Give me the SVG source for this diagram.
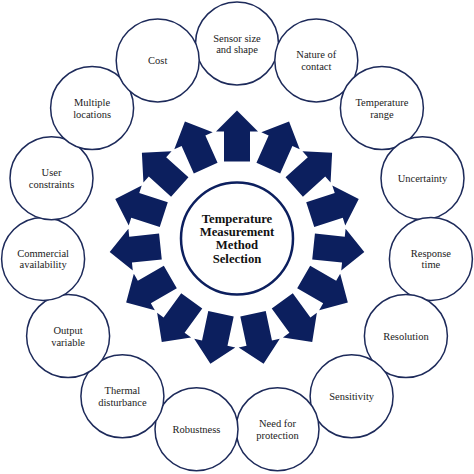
<svg xmlns="http://www.w3.org/2000/svg" width="474" height="474" viewBox="0 0 474 474">
<style>
.c{fill:#fff;stroke:#1d2a5a;stroke-width:1.5}
.t{font-family:"Liberation Serif","Times New Roman",serif;font-size:10.5px;fill:#222;text-anchor:middle}
.m{font-family:"Liberation Serif","Times New Roman",serif;font-size:12.7px;font-weight:bold;fill:#111;text-anchor:middle}
.a{fill:#0c1f5e}
</style>
<defs>
<polygon id="arr" class="a" points="224,161.5 224,131.5 216,131.5 237,110.5 258,131.5 250,131.5 250,161.5"/>
</defs>
<rect width="474" height="474" fill="#fff"/>
<g id="connectors">
<use href="#arr" transform="rotate(0 237 238.5)"/>
<use href="#arr" transform="rotate(24 237 238.5)"/>
<use href="#arr" transform="rotate(48 237 238.5)"/>
<use href="#arr" transform="rotate(72 237 238.5)"/>
<use href="#arr" transform="rotate(96 237 238.5)"/>
<use href="#arr" transform="rotate(120 237 238.5)"/>
<use href="#arr" transform="rotate(144 237 238.5)"/>
<use href="#arr" transform="rotate(168 237 238.5)"/>
<use href="#arr" transform="rotate(192 237 238.5)"/>
<use href="#arr" transform="rotate(216 237 238.5)"/>
<use href="#arr" transform="rotate(240 237 238.5)"/>
<use href="#arr" transform="rotate(264 237 238.5)"/>
<use href="#arr" transform="rotate(288 237 238.5)"/>
<use href="#arr" transform="rotate(312 237 238.5)"/>
<use href="#arr" transform="rotate(336 237 238.5)"/>
</g>
<g id="center">
<circle cx="237" cy="238.5" r="56" fill="#fff" stroke="#0c1f5e" stroke-width="2.5"/>
<text class="m" x="237" y="222.7">Temperature</text>
<text class="m" x="237" y="236">Measurement</text>
<text class="m" x="237" y="249.3">Method</text>
<text class="m" x="237" y="262.5">Selection</text>
</g>
<g id="n0"><circle class="c" cx="237" cy="43.5" r="41.5"/><text class="t" x="237" y="41.5">Sensor size</text><text class="t" x="237" y="53">and shape</text></g>
<g id="n1"><circle class="c" cx="316.3" cy="60.4" r="41.5"/><text class="t" x="316.3" y="58.4">Nature of</text><text class="t" x="316.3" y="69.9">contact</text></g>
<g id="n2"><circle class="c" cx="381.9" cy="108" r="41.5"/><text class="t" x="381.9" y="106">Temperature</text><text class="t" x="381.9" y="117.5">range</text></g>
<g id="n3"><circle class="c" cx="422.5" cy="178.2" r="41.5"/><text class="t" x="422.5" y="181.9">Uncertainty</text></g>
<g id="n4"><circle class="c" cx="430.9" cy="258.9" r="41.5"/><text class="t" x="430.9" y="256.9">Response</text><text class="t" x="430.9" y="268.4">time</text></g>
<g id="n5"><circle class="c" cx="405.9" cy="336" r="41.5"/><text class="t" x="405.9" y="339.7">Resolution</text></g>
<g id="n6"><circle class="c" cx="351.6" cy="396.3" r="41.5"/><text class="t" x="351.6" y="400">Sensitivity</text></g>
<g id="n7"><circle class="c" cx="277.5" cy="429.2" r="41.5"/><text class="t" x="277.5" y="427.2">Need for</text><text class="t" x="277.5" y="438.7">protection</text></g>
<g id="n8"><circle class="c" cx="196.5" cy="429.2" r="41.5"/><text class="t" x="196.5" y="432.9">Robustness</text></g>
<g id="n9"><circle class="c" cx="122.4" cy="396.3" r="41.5"/><text class="t" x="122.4" y="394.3">Thermal</text><text class="t" x="122.4" y="405.8">disturbance</text></g>
<g id="n10"><circle class="c" cx="68.1" cy="336" r="41.5"/><text class="t" x="68.1" y="334">Output</text><text class="t" x="68.1" y="345.5">variable</text></g>
<g id="n11"><circle class="c" cx="43.1" cy="258.9" r="41.5"/><text class="t" x="43.1" y="256.9">Commercial</text><text class="t" x="43.1" y="268.4">availability</text></g>
<g id="n12"><circle class="c" cx="51.5" cy="178.2" r="41.5"/><text class="t" x="51.5" y="176.2">User</text><text class="t" x="51.5" y="187.7">constraints</text></g>
<g id="n13"><circle class="c" cx="92.1" cy="108" r="41.5"/><text class="t" x="92.1" y="106">Multiple</text><text class="t" x="92.1" y="117.5">locations</text></g>
<g id="n14"><circle class="c" cx="157.7" cy="60.4" r="41.5"/><text class="t" x="157.7" y="64.1">Cost</text></g>
</svg>
